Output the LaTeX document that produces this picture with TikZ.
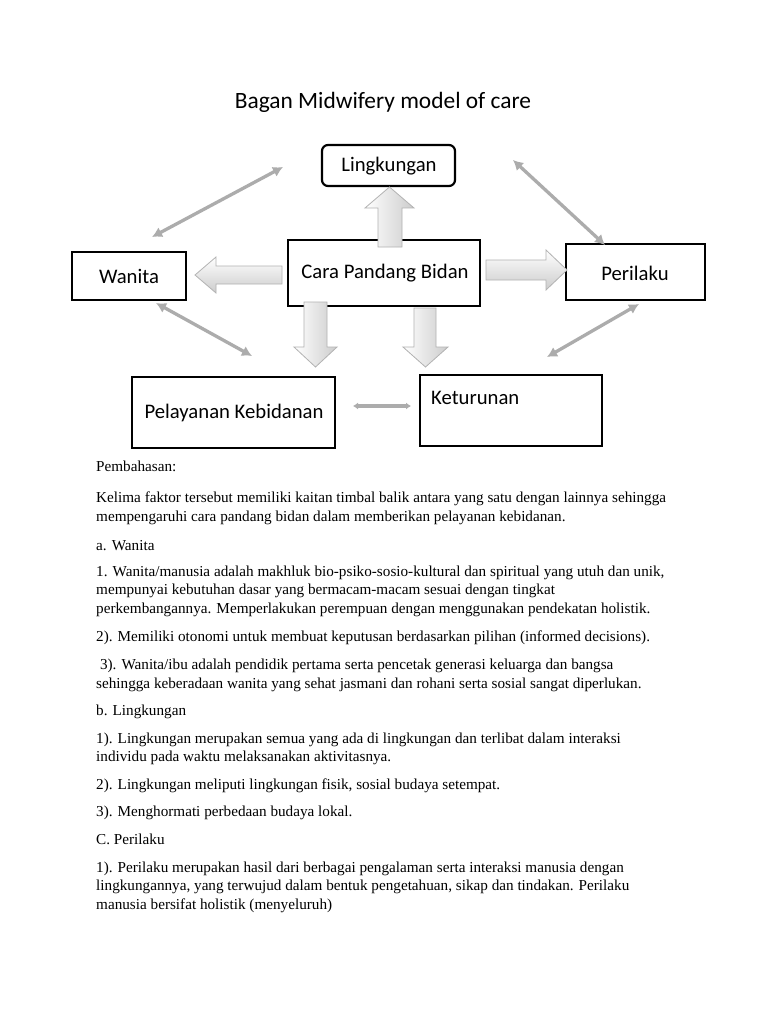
\documentclass[tikz,border=0pt]{standalone}
\usepackage{fontspec}
\setmainfont{Liberation Serif}
\newfontfamily\calfont{Carlito}
\usetikzlibrary{arrows.meta}
\tikzset{
  box/.style={draw=black, line width=2.2pt, inner sep=0pt},
  lbl/.style={font=\calfont\fontsize{20.7}{24}\selectfont, inner sep=0pt},
  txt/.style={anchor=base west, inner sep=0pt, font=\fontsize{15.2}{17}\selectfont},
  thin/.style={draw=gray!65, line width=3.3pt, {Latex[length=10pt,width=11pt]}-{Latex[length=10pt,width=11pt]}},
  blockv/.style={left color=white, right color=gray!40, draw=gray!60, line width=0.8pt},
  blockh/.style={top color=white, bottom color=gray!40, draw=gray!60, line width=0.8pt}
}
\begin{document}
\begin{tikzpicture}[x=1pt,y=-1pt]
\useasboundingbox (0,0) rectangle (768,1024);
\fill[white] (0,0) rectangle (768,1024);

\node[font=\calfont\fontsize{23.4}{28}\selectfont, inner sep=0pt] (title) at (383,102) {Bagan Midwifery model of care};

% boxes
\draw[box, rounded corners=6pt] (322,145) rectangle (455,186);
\node[lbl] (ling) at (389,166) {Lingkungan};
\draw[box] (288,240) rectangle (480,306);
\node[lbl] (cara) at (385,273) {Cara Pandang Bidan};
\draw[box] (72,252) rectangle (186,300);
\node[lbl] (wan) at (129,276) {Wanita};
\draw[box] (566,244) rectangle (705,300);
\node[lbl] (per) at (635,273) {Perilaku};
\draw[box] (132,377) rectangle (335,448);
\node[lbl] (pel) at (234,413) {Pelayanan Kebidanan};
\draw[box] (420,375) rectangle (602,446);
\node[lbl, anchor=west] (ket) at (431,398) {Keturunan};

% block arrows
\shade[blockv] (378,247) -- (378,208) -- (365,208) -- (389.5,187) -- (414,208) -- (402,208) -- (402,247) -- cycle;
\shade[blockh] (282,266) -- (216,266) -- (216,257) -- (195,275) -- (216,293) -- (216,284) -- (282,284) -- cycle;
\shade[blockh] (486,260) -- (546,260) -- (546,250) -- (567,270) -- (546,290) -- (546,280) -- (486,280) -- cycle;
\shade[blockv] (304,302) -- (304,347) -- (294,347) -- (315.5,367) -- (337,347) -- (327,347) -- (327,302) -- cycle;
\shade[blockv] (414,308) -- (414,347) -- (403,347) -- (425.5,367) -- (448,347) -- (436,347) -- (436,308) -- cycle;

% thin double arrows
\coordinate (a1) at (152,237); \coordinate (a2) at (283,167);
\coordinate (b1) at (513,160); \coordinate (b2) at (605,245);
\coordinate (c1) at (156,303); \coordinate (c2) at (252,356);
\coordinate (d1) at (639,304); \coordinate (d2) at (547,357);
\coordinate (e1) at (353,406); \coordinate (e2) at (411,406);
\draw[thin] (a1) -- (a2);
\draw[thin] (b1) -- (b2);
\draw[thin] (c1) -- (c2);
\draw[thin] (d1) -- (d2);
\draw[thin, line width=3.8pt, {Latex[length=5pt,width=7pt]}-{Latex[length=5pt,width=7pt]}] (e1) -- (e2);

% text
\node[txt] (t1) at (96,471) {Pembahasan:};
\node[txt] (t2) at (96,502) {Kelima faktor tersebut memiliki kaitan timbal balik antara yang satu dengan lainnya sehingga};
\node[txt] (t3) at (96,521) {mempengaruhi cara pandang bidan dalam memberikan pelayanan kebidanan.};
\node[txt] (t4) at (96,550) {a. Wanita};
\node[txt] (t5) at (96,576) {1. Wanita/manusia adalah makhluk bio-psiko-sosio-kultural dan spiritual yang utuh dan unik,};
\node[txt] (t6) at (96,594) {mempunyai kebutuhan dasar yang bermacam-macam sesuai dengan tingkat};
\node[txt] (t7) at (96,613) {perkembangannya. Memperlakukan perempuan dengan menggunakan pendekatan holistik.};
\node[txt] (t8) at (96,641) {2). Memiliki otonomi untuk membuat keputusan berdasarkan pilihan (informed decisions).};
\node[txt] (t9) at (96,669) {\ 3). Wanita/ibu adalah pendidik pertama serta pencetak generasi keluarga dan bangsa};
\node[txt] (t10) at (96,688) {sehingga keberadaan wanita yang sehat jasmani dan rohani serta sosial sangat diperlukan.};
\node[txt] (t11) at (96,715) {b. Lingkungan};
\node[txt] (t12) at (96,743) {1). Lingkungan merupakan semua yang ada di lingkungan dan terlibat dalam interaksi};
\node[txt] (t13) at (96,761) {individu pada waktu melaksanakan aktivitasnya.};
\node[txt] (t14) at (96,789) {2). Lingkungan meliputi lingkungan fisik, sosial budaya setempat.};
\node[txt] (t15) at (96,816) {3). Menghormati perbedaan budaya lokal.};
\node[txt] (t16) at (96,844) {C. Perilaku};
\node[txt] (t17) at (96,872) {1). Perilaku merupakan hasil dari berbagai pengalaman serta interaksi manusia dengan};
\node[txt] (t18) at (96,890) {lingkungannya, yang terwujud dalam bentuk pengetahuan, sikap dan tindakan. Perilaku};
\node[txt] (t19) at (96,909) {manusia bersifat holistik (menyeluruh)};
\end{tikzpicture}
\end{document}
